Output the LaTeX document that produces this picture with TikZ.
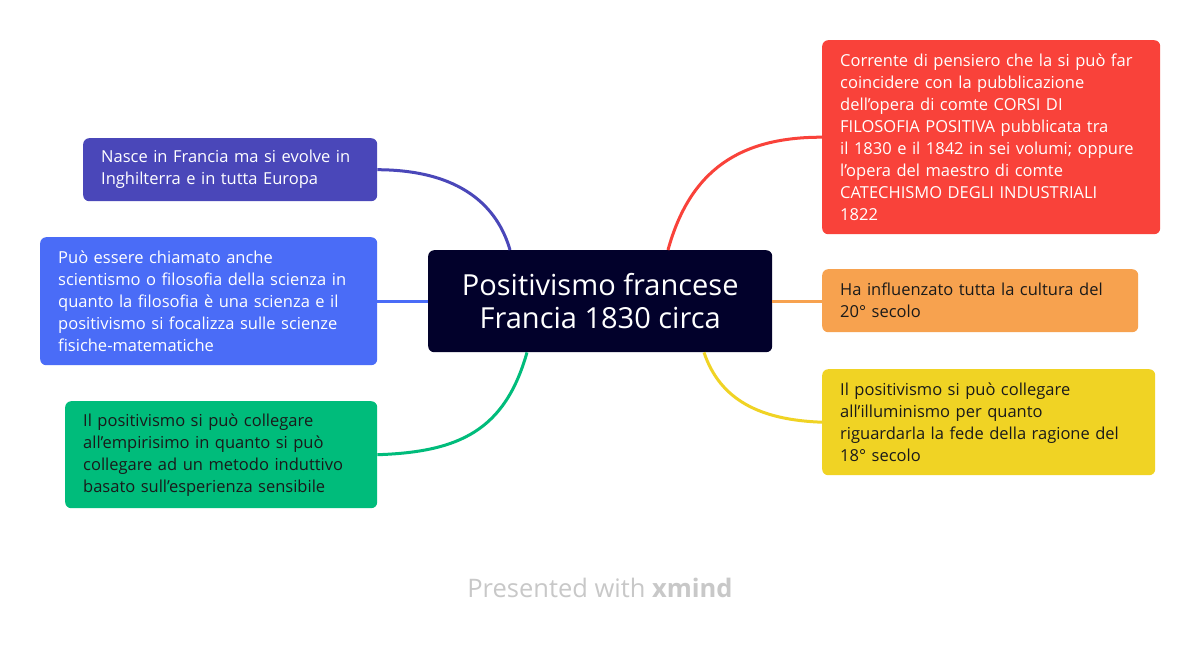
\documentclass[tikz,border=0pt]{standalone}
\usepackage{fontspec}
\setmainfont[Ligatures=NoCommon]{Open Sans}
\definecolor{cnavy}{HTML}{02012B}
\definecolor{cred}{HTML}{F9423A}
\definecolor{corange}{HTML}{F7A24F}
\definecolor{cyellow}{HTML}{F0D324}
\definecolor{cpurple}{HTML}{4A47B9}
\definecolor{cblue}{HTML}{4A6CF7}
\definecolor{cgreen}{HTML}{00BC7B}
\definecolor{ctxt}{HTML}{1A1A1A}
\definecolor{cgray}{HTML}{C8C8C8}
\begin{document}
\begin{tikzpicture}[x=1pt,y=-1pt,
  box/.style={rounded corners=6pt, anchor=north west, inner xsep=18pt, inner ysep=0pt, align=left,
    font=\fontsize{16.5}{22}\selectfont},
  conn/.style={line width=3pt}]
\useasboundingbox (0,0) rectangle (1200,649);
\fill[white] (0,0) rectangle (1200,649);
% nodes
\node[box, fill=cnavy, text=white, align=center, inner xsep=0pt, minimum width=344pt, minimum height=102pt,
  font=\fontsize{29}{33}\selectfont] (c) at (428,250) {Positivismo francese\\Francia 1830 circa};
\node[box, fill=cred, text=white, text width=302pt, minimum height=194pt] (red) at (822,40)
 {Corrente di pensiero che la si può far\\coincidere con la pubblicazione\\dell'opera di comte CORSI DI\\FILOSOFIA POSITIVA pubblicata tra\\il 1830 e il 1842 in sei volumi; oppure\\l'opera del maestro di comte\\CATECHISMO DEGLI INDUSTRIALI\\1822};
\node[box, fill=corange, text=ctxt, text width=280pt, minimum height=63pt] (ora) at (822,269)
 {Ha influenzato tutta la cultura del\\20° secolo};
\node[box, fill=cyellow, text=ctxt, text width=297pt, minimum height=106pt] (yel) at (822,369)
 {Il positivismo si può collegare\\all'illuminismo per quanto\\riguardarla la fede della ragione del\\18° secolo};
\node[box, fill=cpurple, text=white, text width=258pt, minimum height=63pt] (pur) at (83,138)
 {Nasce in Francia ma si evolve in\\Inghilterra e in tutta Europa};
\node[box, fill=cblue, text=white, text width=301pt, minimum height=128pt] (blu) at (40,237)
 {Può essere chiamato anche\\scientismo o filosofia della scienza in\\quanto la filosofia è una scienza e il\\positivismo si focalizza sulle scienze\\fisiche-matematiche};
\node[box, fill=cgreen, text=ctxt, text width=276pt, minimum height=107pt] (gre) at (65,401)
 {Il positivismo si può collegare\\all'empirisimo in quanto si può\\collegare ad un metodo induttivo\\basato sull'esperienza sensibile};
% connectors
\draw[conn, cpurple] (pur.east) .. controls (470,170) and (500,215) .. ([xshift=82pt]c.north west);
\draw[conn, cblue] (blu.east |- c.west) -- (c.west);
\draw[conn, cgreen] ([xshift=99pt]c.south west) .. controls (505,430) and (460,452) .. (gre.east);
\draw[conn, cred] ([xshift=240pt]c.north west) .. controls (690,170) and (740,137) .. (red.west);
\draw[conn, corange] (c.east) -- (ora.west |- c.east);
\draw[conn, cyellow] ([xshift=276pt]c.south west) .. controls (720,400) and (760,420) .. (yel.west);
\node[text=cgray, font=\fontsize{25.5}{28}\selectfont] (foot) at (600,588) {Presented with \textbf{xmind}};
\end{tikzpicture}
\end{document}
